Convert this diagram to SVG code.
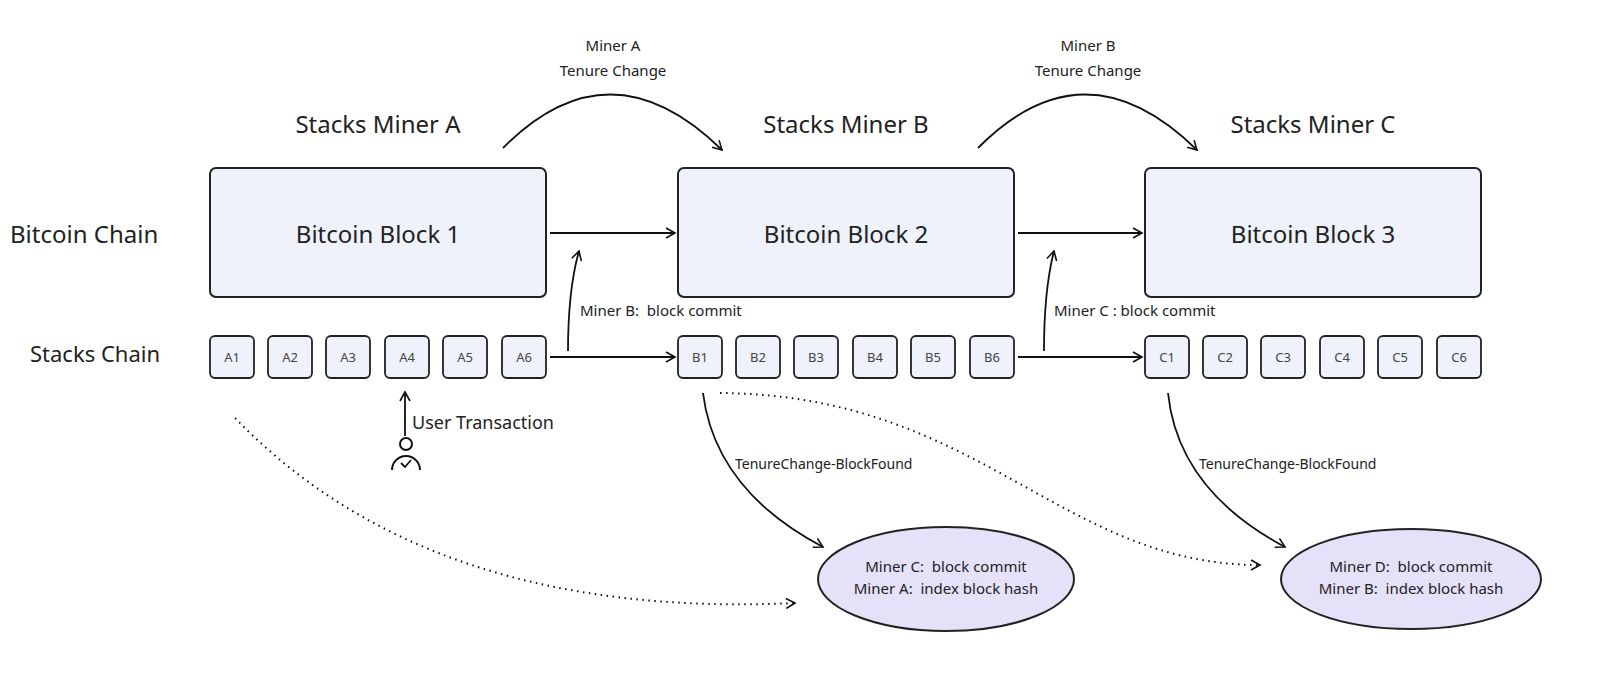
<svg xmlns="http://www.w3.org/2000/svg" width="1604" height="700" viewBox="0 0 1604 700">
<defs>
<marker id="ah" markerWidth="12" markerHeight="12" refX="10" refY="6" orient="auto" markerUnits="userSpaceOnUse"><path d="M1,1 L10,6 L1,11" fill="none" stroke="#111" stroke-width="1.6"/></marker>
<style>
.big{fill:#eff2fb;stroke:#222;stroke-width:2}
.sm{fill:#eff2fb;stroke:#222;stroke-width:1.8}
.ell{fill:#e5e1f9;stroke:#222;stroke-width:2}
text{font-family:"Noto Sans","Open Sans",sans-serif;fill:#222;white-space:pre}
.bt{font-size:24px;text-anchor:middle}
.st{font-size:13px;text-anchor:middle;fill:#444}
.lb{font-size:15px}
.c{fill:none;stroke:#111;stroke-width:1.8}
.d{fill:none;stroke:#111;stroke-width:2;stroke-dasharray:1.5 4.5}
</style>
</defs>
<rect width="1604" height="700" fill="#fff"/>
<g id="labels">
<text x="10" y="243" font-size="24">Bitcoin Chain</text>
<text x="30" y="362" font-size="22">Stacks Chain</text>
<text x="378" y="133" class="bt">Stacks Miner A</text>
<text x="846" y="133" class="bt">Stacks Miner B</text>
<text x="1313" y="133" class="bt">Stacks Miner C</text>
<text x="613" y="51" class="lb" text-anchor="middle" font-size="16">Miner A</text>
<text x="613" y="76" class="lb" text-anchor="middle" font-size="16">Tenure Change</text>
<text x="1088" y="51" class="lb" text-anchor="middle" font-size="16">Miner B</text>
<text x="1088" y="76" class="lb" text-anchor="middle" font-size="16">Tenure Change</text>
<text x="580" y="316" class="lb" xml:space="preserve">Miner B:  block commit</text>
<text x="1054" y="316" class="lb">Miner C : block commit</text>
<text x="412" y="429" font-size="18">User Transaction</text>
<text x="735" y="469" font-size="14">TenureChange-BlockFound</text>
<text x="1199" y="469" font-size="14">TenureChange-BlockFound</text>
</g>
<g id="btc1"><rect x="210" y="168" width="336" height="129" rx="6" class="big"/><text x="378" y="243" class="bt">Bitcoin Block 1</text></g>
<g id="btc2"><rect x="678" y="168" width="336" height="129" rx="6" class="big"/><text x="846" y="243" class="bt">Bitcoin Block 2</text></g>
<g id="btc3"><rect x="1145" y="168" width="336" height="129" rx="6" class="big"/><text x="1313" y="243" class="bt">Bitcoin Block 3</text></g>
<g id="A1"><rect x="210" y="336" width="44" height="42" rx="5" class="sm"/><text x="232" y="362" class="st">A1</text></g>
<g id="A2"><rect x="268" y="336" width="44" height="42" rx="5" class="sm"/><text x="290" y="362" class="st">A2</text></g>
<g id="A3"><rect x="326" y="336" width="44" height="42" rx="5" class="sm"/><text x="348" y="362" class="st">A3</text></g>
<g id="A4"><rect x="385" y="336" width="44" height="42" rx="5" class="sm"/><text x="407" y="362" class="st">A4</text></g>
<g id="A5"><rect x="443" y="336" width="44" height="42" rx="5" class="sm"/><text x="465" y="362" class="st">A5</text></g>
<g id="A6"><rect x="502" y="336" width="44" height="42" rx="5" class="sm"/><text x="524" y="362" class="st">A6</text></g>
<g id="B1"><rect x="678" y="336" width="44" height="42" rx="5" class="sm"/><text x="700" y="362" class="st">B1</text></g>
<g id="B2"><rect x="736" y="336" width="44" height="42" rx="5" class="sm"/><text x="758" y="362" class="st">B2</text></g>
<g id="B3"><rect x="794" y="336" width="44" height="42" rx="5" class="sm"/><text x="816" y="362" class="st">B3</text></g>
<g id="B4"><rect x="853" y="336" width="44" height="42" rx="5" class="sm"/><text x="875" y="362" class="st">B4</text></g>
<g id="B5"><rect x="911" y="336" width="44" height="42" rx="5" class="sm"/><text x="933" y="362" class="st">B5</text></g>
<g id="B6"><rect x="970" y="336" width="44" height="42" rx="5" class="sm"/><text x="992" y="362" class="st">B6</text></g>
<g id="C1"><rect x="1145" y="336" width="44" height="42" rx="5" class="sm"/><text x="1167" y="362" class="st">C1</text></g>
<g id="C2"><rect x="1203" y="336" width="44" height="42" rx="5" class="sm"/><text x="1225" y="362" class="st">C2</text></g>
<g id="C3"><rect x="1261" y="336" width="44" height="42" rx="5" class="sm"/><text x="1283" y="362" class="st">C3</text></g>
<g id="C4"><rect x="1320" y="336" width="44" height="42" rx="5" class="sm"/><text x="1342" y="362" class="st">C4</text></g>
<g id="C5"><rect x="1378" y="336" width="44" height="42" rx="5" class="sm"/><text x="1400" y="362" class="st">C5</text></g>
<g id="C6"><rect x="1437" y="336" width="44" height="42" rx="5" class="sm"/><text x="1459" y="362" class="st">C6</text></g>
<g id="ell1"><ellipse cx="946" cy="579" rx="128" ry="52" class="ell"/><text x="946" y="572" text-anchor="middle" font-size="15" xml:space="preserve">Miner C:  block commit</text><text x="946" y="594" text-anchor="middle" font-size="15" xml:space="preserve">Miner A:  index block hash</text></g>
<g id="ell2"><ellipse cx="1411" cy="579" rx="130" ry="50" class="ell"/><text x="1411" y="572" text-anchor="middle" font-size="15" xml:space="preserve">Miner D:  block commit</text><text x="1411" y="594" text-anchor="middle" font-size="15" xml:space="preserve">Miner B:  index block hash</text></g>
<g id="user"><circle cx="406" cy="444" r="6" fill="none" stroke="#111" stroke-width="2"/><path d="M392,470 A14,14 0 0 1 420,470" fill="none" stroke="#111" stroke-width="2"/><path d="M401,463 L405,467 L411,460" fill="none" stroke="#111" stroke-width="1.8"/></g>
<g id="connectors">
<line x1="550" y1="233" x2="675" y2="233" class="c" marker-end="url(#ah)"/>
<line x1="1018" y1="233" x2="1142" y2="233" class="c" marker-end="url(#ah)"/>
<line x1="550" y1="357" x2="675" y2="357" class="c" marker-end="url(#ah)"/>
<line x1="1018" y1="357" x2="1142" y2="357" class="c" marker-end="url(#ah)"/>
<path d="M568,351 Q568,290 579,251" class="c" marker-end="url(#ah)"/>
<path d="M1044,351 Q1044,290 1054,251" class="c" marker-end="url(#ah)"/>
<path d="M503,148 Q610,40 722,150" class="c" marker-end="url(#ah)"/>
<path d="M978,148 Q1085,40 1197,150" class="c" marker-end="url(#ah)"/>
<line x1="405" y1="436" x2="405" y2="392" class="c" marker-end="url(#ah)"/>
<path d="M703,393 Q715,490 823,547" class="c" marker-end="url(#ah)"/>
<path d="M1168,393 Q1178,490 1285,547" class="c" marker-end="url(#ah)"/>
<path d="M235,418 Q430,620 795,603" class="d" marker-end="url(#ah)"/>
<path d="M720,393 C980,395 1060,565 1260,565" class="d" marker-end="url(#ah)"/>
</g>
</svg>
